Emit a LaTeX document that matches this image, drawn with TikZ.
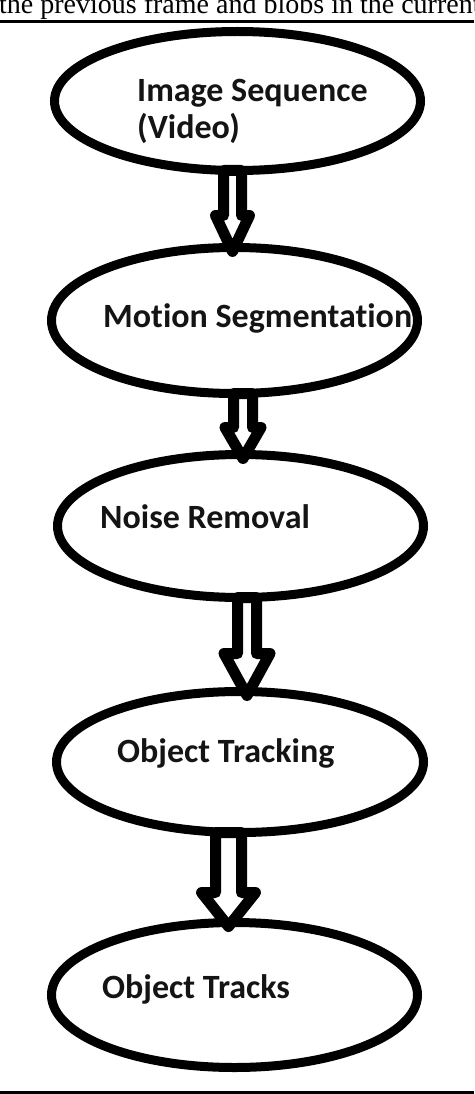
\documentclass[tikz,border=0pt]{standalone}
\usepackage{fontspec}
\setmainfont{Carlito}[Ligatures=NoCommon]
\newfontfamily\capfont{Liberation Serif}
\usetikzlibrary{shapes.geometric,calc}
\tikzset{
  ell/.style={ellipse, draw=black, line width=9pt, inner sep=0pt, outer sep=0pt},
  lbl/.style={anchor=base west, inner sep=0pt, text=black!92,
              font=\fontsize{34}{39}\selectfont\bfseries},
  harrow/.style={draw=black, line width=11pt, line join=round},
  rule/.style={draw=black, line width=3pt}
}
\newcommand\hollowarrow[6]{%
  \draw[harrow] let \p1=($(#1.south)+(#3,0)$), \p2=(#2.north) in
    (\x1-#4pt,\y1) -- (\x1-#4pt,\y2+#6pt) -- (\x1-#5pt,\y2+#6pt) --
    (\x1,\y2-4pt) -- (\x1+#5pt,\y2+#6pt) -- (\x1+#4pt,\y2+#6pt) --
    (\x1+#4pt,\y1) -- cycle;}
\begin{document}
\begin{tikzpicture}[x=1pt,y=-1pt]
\useasboundingbox (0,0) rectangle (474,1094);
\clip (0,0) rectangle (474,1094);
\fill[white] (0,0) rectangle (474,1094);
% cut caption line and rules
\node[anchor=base west, inner sep=0pt, font=\capfont\fontsize{28}{33}\selectfont] (cap) at (-1,14) {the previous frame and blobs in the current};
\coordinate (r1a) at (0,21.5); \coordinate (r1b) at (474,21.5);
\coordinate (r2a) at (0,1092.5); \coordinate (r2b) at (474,1092.5);
\draw[rule] (r1a) -- (r1b);
\draw[rule] (r2a) -- (r2b);
% labels
\node[lbl] (t1a) at (137,102) {Image Sequence};
\node[lbl] (t1b) at (137,139) {(Video)};
\node[lbl] (t2) at (103,327) {Motion Segmentation};
\node[lbl] (t3) at (100,528) {Noise Removal};
\node[lbl] (t4) at (117,762) {Object Tracking};
\node[lbl] (t5) at (102,998) {Object Tracks};
% ellipses
\node[ell, minimum width=366pt, minimum height=139pt] (e1) at (237.5,101) {};
\node[ell, minimum width=366pt, minimum height=146pt] (e2) at (234.5,320.5) {};
\node[ell, minimum width=366pt, minimum height=143pt] (e3) at (240.5,526) {};
\node[ell, minimum width=367pt, minimum height=141pt] (e4) at (240,762) {};
\node[ell, minimum width=366pt, minimum height=145pt] (e5) at (234.5,995) {};
% hollow block arrows
\hollowarrow{e1}{e2}{-5}{9}{17}{32}
\hollowarrow{e2}{e3}{8.5}{9.5}{18}{27}
\hollowarrow{e3}{e4}{6.5}{9.5}{23}{38}
\hollowarrow{e4}{e5}{-11.5}{13}{27}{30}
\end{tikzpicture}
\end{document}
